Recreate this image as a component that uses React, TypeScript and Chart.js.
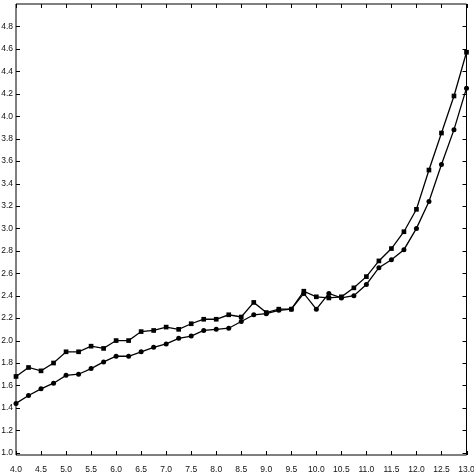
import { useEffect, useRef } from 'react'
import { Chart, registerables } from 'chart.js'

Chart.register(...registerables)

const xValues = [
  4.0, 4.25, 4.5, 4.75, 5.0, 5.25, 5.5, 5.75, 6.0, 6.25, 6.5, 6.75,
  7.0, 7.25, 7.5, 7.75, 8.0, 8.25, 8.5, 8.75, 9.0, 9.25, 9.5, 9.75,
  10.0, 10.25, 10.5, 10.75, 11.0, 11.25, 11.5, 11.75, 12.0, 12.25, 12.5, 12.75, 13.0,
]

const squareSeries = [
  1.68, 1.76, 1.73, 1.8, 1.9, 1.9, 1.95, 1.93, 2.0, 2.0, 2.08, 2.09,
  2.12, 2.1, 2.15, 2.19, 2.19, 2.23, 2.21, 2.34, 2.25, 2.28, 2.28, 2.44,
  2.39, 2.38, 2.39, 2.47, 2.57, 2.71, 2.82, 2.97, 3.17, 3.52, 3.85, 4.18, 4.57,
]

const circleSeries = [
  1.44, 1.51, 1.57, 1.62, 1.69, 1.7, 1.75, 1.81, 1.86, 1.86, 1.9, 1.94,
  1.97, 2.02, 2.04, 2.09, 2.1, 2.11, 2.17, 2.23, 2.24, 2.27, 2.28, 2.42,
  2.28, 2.42, 2.38, 2.4, 2.5, 2.65, 2.72, 2.81, 3.0, 3.24, 3.57, 3.88, 4.25,
]

const xTicks = [4.0, 4.5, 5.0, 5.5, 6.0, 6.5, 7.0, 7.5, 8.0, 8.5, 9.0, 9.5, 10.0, 10.5, 11.0, 11.5, 12.0, 12.5, 13.0]
const yTicks = [1.0, 1.2, 1.4, 1.6, 1.8, 2.0, 2.2, 2.4, 2.6, 2.8, 3.0, 3.2, 3.4, 3.6, 3.8, 4.0, 4.2, 4.4, 4.6, 4.8]

const tickFont = { family: '"Liberation Sans Narrow", "Liberation Sans", Arial, sans-serif', size: 8.5 }

// frame round the plot with short ticks pointing inwards on all four sides
const framePlugin = {
  id: 'frame',
  afterDraw(chart: any) {
    const { ctx, chartArea, scales } = chart
    const { left, right, top, bottom } = chartArea
    const len = 4
    ctx.save()
    ctx.strokeStyle = '#000'
    ctx.lineWidth = 1
    ctx.beginPath()
    ctx.rect(left, top, right - left, bottom - top)
    yTicks.forEach(v => {
      const y = Math.round(scales.y.getPixelForValue(v)) + 0.5
      ctx.moveTo(left, y)
      ctx.lineTo(left + len, y)
      ctx.moveTo(right, y)
      ctx.lineTo(right - len, y)
    })
    xTicks.forEach(v => {
      const x = Math.round(scales.x.getPixelForValue(v)) + 0.5
      ctx.moveTo(x, bottom)
      ctx.lineTo(x, bottom - len)
      ctx.moveTo(x, top)
      ctx.lineTo(x, top + len)
    })
    ctx.stroke()
    ctx.restore()
  },
}

export default function App() {
  const canvasRef = useRef<HTMLCanvasElement>(null)

  useEffect(() => {
    if (!canvasRef.current) return

    const config: any = {
      type: 'line',
      data: {
        datasets: [
          {
            label: 'squares',
            data: xValues.map((x, i) => ({ x, y: squareSeries[i] })),
            borderColor: '#000',
            backgroundColor: '#000',
            borderWidth: 1.3,
            pointStyle: 'rect',
            pointRadius: 3.3,
            pointBorderWidth: 0,
            clip: false,
          },
          {
            label: 'circles',
            data: xValues.map((x, i) => ({ x, y: circleSeries[i] })),
            borderColor: '#000',
            backgroundColor: '#000',
            borderWidth: 1.3,
            pointStyle: 'circle',
            pointRadius: 2.5,
            pointBorderWidth: 0,
            clip: false,
          },
        ],
      },
      options: {
        animation: false,
        responsive: false,
        maintainAspectRatio: false,
        layout: { padding: { top: 3, right: 7.5, left: 0, bottom: 0 } },
        plugins: {
          legend: { display: false },
          tooltip: { enabled: false },
        },
        scales: {
          x: {
            type: 'linear',
            min: 4,
            max: 13,
            grid: { display: false, drawTicks: false },
            border: { display: false },
            afterBuildTicks: (scale: any) => {
              scale.ticks = xTicks.map(value => ({ value }))
            },
            afterFit: (scale: any) => {
              scale.height = 19
              scale.paddingLeft = 0
              scale.paddingRight = 0
            },
            ticks: {
              autoSkip: false,
              maxRotation: 0,
              padding: 10,
              color: '#111',
              font: tickFont,
              callback: (v: number) => v.toFixed(1),
            },
          },
          y: {
            type: 'linear',
            min: 0.98,
            max: 5.0,
            grid: { display: false, drawTicks: false },
            border: { display: false },
            afterBuildTicks: (scale: any) => {
              scale.ticks = yTicks.map(value => ({ value }))
            },
            afterFit: (scale: any) => {
              scale.width = 16
              scale.paddingTop = 0
              scale.paddingBottom = 0
            },
            ticks: {
              autoSkip: false,
              padding: 3,
              color: '#111',
              font: tickFont,
              callback: (v: number) => v.toFixed(1),
            },
          },
        },
      },
      plugins: [framePlugin],
    }

    const chart = new Chart(canvasRef.current, config)
    return () => chart.destroy()
  }, [])

  return (
    <div style={{ position: 'fixed', left: 0, top: 0, width: 474, height: 474, background: '#fff' }}>
      <canvas ref={canvasRef} width={474} height={474} style={{ width: 474, height: 474 }} />
    </div>
  )
}
